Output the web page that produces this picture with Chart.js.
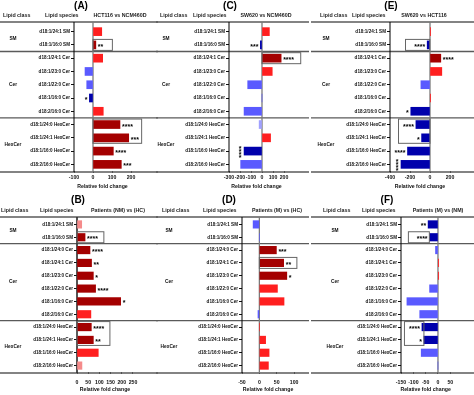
<!DOCTYPE html>
<html>
<head>
<meta charset="utf-8">
<script src="https://cdn.jsdelivr.net/npm/chart.js@4.4.0/dist/chart.umd.min.js"></script>
<style>
  body { margin: 0; background: #fff; width: 474px; height: 395px; position: relative; overflow: hidden; }
  canvas { position: absolute; }
</style>
</head>
<body>
<script>
// species rows, top to bottom
const speciesTop = ['d18:1/24:1 SM', 'd18:1/16:0 SM', 'd18:1/24:1 Cer', 'd18:1/23:0 Cer', 'd18:1/22:0 Cer',
  'd18:1/16:0 Cer', 'd18:2/16:0 Cer', 'd18:1/24:0 HexCer', 'd18:1/24:1 HexCer', 'd18:1/16:0 HexCer', 'd18:2/16:0 HexCer'];
const speciesBottom = ['d18:1/24:1 SM', 'd18:1/16:0 SM', 'd18:1/24:0 Cer', 'd18:1/24:1 Cer', 'd18:1/23:0 Cer',
  'd18:1/22:0 Cer', 'd18:1/16:0 Cer', 'd18:2/16:0 Cer', 'd18:1/24:0 HexCer', 'd18:1/24:1 HexCer', 'd18:1/16:0 HexCer', 'd18:2/16:0 HexCer'];
const classNames = ['SM', 'Cer', 'HexCer'];
const classCountsTop = [2, 5, 4];
const classCountsBottom = [2, 6, 4];

// (A) HCT116 vs NCM460D
const valA = [46, 15, 51, -42, -33, -19, 54, 142, 188, 107, 149];
const colA = ['r', 'dr', 'r', 'lb', 'lb', 'db', 'r', 'dr', 'dr', 'dr', 'dr'];
const sigA = ['', '**', '', '', '', '*', '', '****', '***', '****', '***'];
const boxA = [[1, 1, 0, 102], [7, 8, 0, 256]]; // [firstRow, lastRow, fromValue, toValue]
const tickA = [-100, 0, 100, 200];

// (C) SW620 vs NCM460D
const valC = [67, -15, 174, 93, -130, 0, -163, -26, 78, -163, -194];
const colC = ['r', 'db', 'dr', 'r', 'lb', 'lb', 'lb', 'vl', 'r', 'db', 'lb'];
const sigC = ['', '***', '****', '', '', '', '', '', '', '|****', ''];
const boxC = [[2, 2, 0, 352]];
const tickC = [-300, -200, -100, 0, 100, 200];

// (E) SW620 vs HCT116
const valE = [3, -28, 108, 118, -91, 3, -192, -141, -84, -225, -290];
const colE = ['r', 'db', 'dr', 'r', 'lb', 'r', 'db', 'db', 'db', 'db', 'db'];
const sigE = ['', '****', '****', '', '', '', '*', '****', '*', '****', '|****'];
const boxE = [[1, 1, -245, -2], [7, 8, -315, 0]];
const tickE = [-400, -200, 0, 200];

// (B) Patients (NM) vs (HC)
const valB = [21, 36, 58, 65, 73, 83, 195, 62, 64, 73, 95, 22];
const colB = ['p', 'dr', 'dr', 'dr', 'dr', 'dr', 'dr', 'r', 'dr', 'dr', 'r', 'p'];
const sigB = ['', '****', '****', '**', '*', '****', '*', '', '****', '**', '', ''];
const boxB = [[1, 1, 0, 120], [8, 9, 0, 147]];
const tickB = [0, 50, 100, 150, 200, 250];

// (D) Patients (M) vs (HC)
const valD = [-18, 0, 49, 70, 79, 52, 71, -4, 0, 18, 28, 26];
const colD = ['lb', 'lb', 'dr', 'dr', 'dr', 'r', 'r', 'lb', 'r', 'r', 'r', 'r'];
const sigD = ['', '', '***', '**', '*', '', '', '', '', '', '', ''];
const boxD = [[3, 3, 0, 108]];
const tickD = [-50, 0, 50, 100];

// (F) Patients (M) vs (NM)
const valF = [-40, -34, -10, 3, 3, -34, -126, -74, -65, -57, -68, 0];
const colF = ['db', 'db', 'lb', 'r', 'r', 'lb', 'lb', 'lb', 'db', 'db', 'lb', 'lb'];
const sigF = ['**', '****', '', '', '', '', '', '', '****', '*', '', ''];
const boxF = [[1, 1, -120, -35], [8, 9, -136, -57]];
const tickF = [-150, -100, -50, 0, 50];

const colors = { dr: '#a40000', r: '#ff1f1f', p: '#f58b8b', db: '#0000ac', lb: '#5a5aff', vl: '#a0a0ff' };
const FONT = '"Liberation Sans", Arial, sans-serif';

const panels = [
  { tag: '(A)', comp: 'HCT116 vs NCM460D', names: speciesTop, counts: classCountsTop, val: valA, col: colA, sig: sigA, box: boxA, ticks: tickA, min: -100, max: 300,
    g: { x: 0, y: 0, w: 158, h: 195, axis: 74, right: 150, top: 25, bottom: 171, titleX: 81, titleY: 6, hx: [3, 45, 120], classX: 13, tickPad: 1.5, xtitle: 187, bar: 8 } },
  { tag: '(C)', comp: 'SW620 vs NCM460D', names: speciesTop, counts: classCountsTop, val: valC, col: colC, sig: sigC, box: boxC, ticks: tickC, min: -300, max: 400,
    g: { x: 156, y: 0, w: 153, h: 195, axis: 73, right: 150, top: 25, bottom: 171, titleX: 74, titleY: 6, hx: [4, 37, 110], classX: 10, tickPad: 1.5, xtitle: 187, bar: 8 } },
  { tag: '(E)', comp: 'SW620 vs HCT116', names: speciesTop, counts: classCountsTop, val: valE, col: colE, sig: sigE, box: boxE, ticks: tickE, min: -400, max: 400,
    g: { x: 311, y: 0, w: 163, h: 195, axis: 79, right: 159, top: 25, bottom: 171, titleX: 80, titleY: 6, hx: [9, 41, 113], classX: 15, tickPad: 1.5, xtitle: 187, bar: 8 } },
  { tag: '(B)', comp: 'Patients (NM) vs (HC)', names: speciesBottom, counts: classCountsBottom, val: valB, col: colB, sig: sigB, box: boxB, ticks: tickB, min: 0, max: 335,
    g: { x: 0, y: 195, w: 158, h: 200, axis: 77, right: 152, top: 23, bottom: 177, titleX: 78, titleY: 5, hx: [1, 40, 118], classX: 13, tickPad: 5, xtitle: 195, bar: 7.5 } },
  { tag: '(D)', comp: 'Patients (M) vs (HC)', names: speciesBottom, counts: classCountsBottom, val: valD, col: colD, sig: sigD, box: boxD, ticks: tickD, min: -50, max: 140,
    g: { x: 156, y: 195, w: 153, h: 200, axis: 86, right: 152, top: 23, bottom: 177, titleX: 73, titleY: 5, hx: [6, 47, 121], classX: 13, tickPad: 5, xtitle: 195, bar: 7.5 } },
  { tag: '(F)', comp: 'Patients (M) vs (NM)', names: speciesBottom, counts: classCountsBottom, val: valF, col: colF, sig: sigF, box: boxF, ticks: tickF, min: -150, max: 130,
    g: { x: 311, y: 195, w: 163, h: 200, axis: 90, right: 159, top: 23, bottom: 177, titleX: 76, titleY: 5, hx: [12, 51, 127], classX: 24, tickPad: 5, xtitle: 195, bar: 7.5 } }
];

function deco(p) {
  const g = p.g;
  return {
    id: 'deco',
    beforeDatasetsDraw(chart) {
      const c = chart.ctx, a = chart.chartArea, xs = chart.scales.x, ys = chart.scales.y;
      const lineTop = 22, lineBot = a.bottom + 1;
      c.save();
      c.textBaseline = 'middle';
      c.fillStyle = '#000';
      c.font = 'bold 10px ' + FONT;
      c.textAlign = 'center';
      c.fillText(p.tag, g.titleX, g.titleY);
      c.font = 'bold 5.3px ' + FONT;
      c.fillStyle = '#222';
      c.textAlign = 'left';
      c.fillText('Lipid class', g.hx[0], 16);
      c.fillText('Lipid species', g.hx[1], 16);
      c.textAlign = 'center';
      c.fillText(p.comp, g.hx[2], 16);

      // class labels and separators
      const hl = [lineTop, lineBot];
      let idx = 0;
      c.font = 'bold 4.8px ' + FONT;
      c.fillStyle = '#111';
      p.counts.forEach(function(n, k) {
        const first = idx, last = idx + n - 1;
        c.fillText(classNames[k], g.classX, (ys.getPixelForValue(first) + ys.getPixelForValue(last)) / 2);
        if (k > 0) hl.push((ys.getPixelForValue(first - 1) + ys.getPixelForValue(first)) / 2);
        idx += n;
      });
      c.strokeStyle = '#5a5a5a';
      c.lineWidth = 1.4;
      hl.forEach(function(yy) {
        c.beginPath(); c.moveTo(0, yy); c.lineTo(g.w, yy); c.stroke();
      });

      // zero line
      const x0 = xs.getPixelForValue(0);
      c.strokeStyle = '#7a7a7a';
      c.lineWidth = 1.3;
      c.beginPath(); c.moveTo(x0, lineTop); c.lineTo(x0, lineBot); c.stroke();
      // y axis line
      c.strokeStyle = '#000';
      c.lineWidth = 1;
      c.beginPath(); c.moveTo(a.left, lineTop); c.lineTo(a.left, lineBot); c.stroke();
      c.restore();
    },
    afterDatasetsDraw(chart) {
      const c = chart.ctx, xs = chart.scales.x, ys = chart.scales.y;
      c.save();
      // boxes
      c.strokeStyle = '#666';
      c.lineWidth = 1;
      p.box.forEach(function(b) {
        const yt = ys.getPixelForValue(b[0]) - 5.5, yb = ys.getPixelForValue(b[1]) + 5.5;
        const xa = xs.getPixelForValue(b[2]), xb = xs.getPixelForValue(b[3]);
        c.strokeRect(Math.min(xa, xb), yt, Math.abs(xb - xa), yb - yt);
      });
      // stars
      c.fillStyle = '#000';
      c.font = 'bold 7px ' + FONT;
      c.textBaseline = 'alphabetic';
      p.sig.forEach(function(s, i) {
        if (!s) return;
        const v = p.val[i], xe = xs.getPixelForValue(v), yc = ys.getPixelForValue(i);
        if (s[0] === '|') {
          const n = s.length - 1;
          c.textAlign = 'center';
          for (let k = 0; k < n; k++) c.fillText('*', xe - 4, yc + (k - (n - 1) / 2) * 3 + 4);
        } else {
          c.textAlign = v < 0 ? 'right' : 'left';
          c.fillText(s, v < 0 ? xe - 2 : xe + 2, yc + 4);
        }
      });
      // x title
      c.font = 'bold 5.2px ' + FONT;
      c.fillStyle = '#111';
      c.textAlign = 'center';
      c.textBaseline = 'middle';
      const xm = (xs.getPixelForValue(p.ticks[0]) + xs.getPixelForValue(p.ticks[p.ticks.length - 1])) / 2;
      c.fillText('Relative fold change', xm, g.xtitle);
      c.restore();
    }
  };
}

panels.forEach(function(p) {
  const g = p.g;
  const cv = document.createElement('canvas');
  cv.width = g.w;
  cv.height = g.h;
  cv.style.left = g.x + 'px';
  cv.style.top = g.y + 'px';
  document.body.appendChild(cv);

  new Chart(cv.getContext('2d'), {
    type: 'bar',
    data: {
      labels: p.names,
      datasets: [{
        data: p.val,
        backgroundColor: p.col.map(function(k) { return colors[k]; }),
        borderWidth: 0,
        barThickness: g.bar
      }]
    },
    options: {
      indexAxis: 'y',
      responsive: false,
      animation: false,
      layout: { padding: { left: 0, top: g.top, right: g.w - g.right, bottom: 0 } },
      plugins: { legend: { display: false }, tooltip: { enabled: false } },
      scales: {
        y: {
          border: { display: false },
          grid: { display: true, drawOnChartArea: false, drawTicks: true, tickLength: 3, color: '#111', offset: false },
          ticks: { font: { family: FONT, size: 4.6, weight: 'bold' }, color: '#111', padding: 1, autoSkip: false },
          afterFit: function(s) { s.width = g.axis; }
        },
        x: {
          type: 'linear',
          min: p.min,
          max: p.max,
          border: { display: false },
          grid: { display: true, drawOnChartArea: false, tickLength: 2, color: '#333' },
          ticks: { font: { family: FONT, size: 5.2, weight: 'bold' }, color: '#111', padding: g.tickPad, autoSkip: false, maxRotation: 0 },
          afterBuildTicks: function(s) { s.ticks = p.ticks.map(function(v) { return { value: v }; }); },
          afterFit: function(s) { s.height = g.h - g.bottom; }
        }
      }
    },
    plugins: [deco(p)]
  });
});
</script>
</body>
</html>
